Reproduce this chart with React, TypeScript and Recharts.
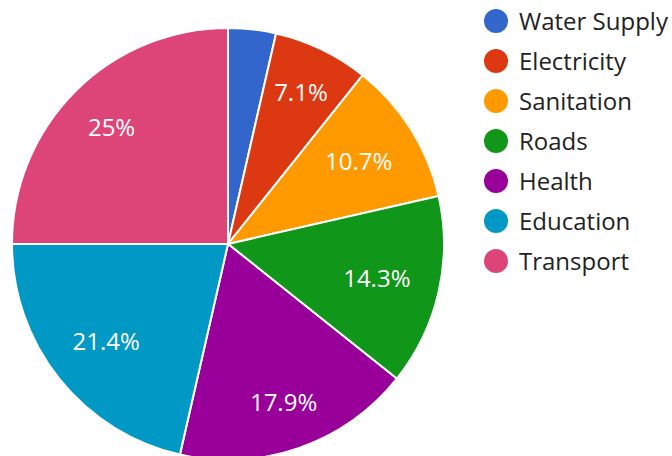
import React from "react";
import { Cell, Legend, Pie, PieChart } from "recharts";

const categories = ["Water Supply", "Electricity", "Sanitation", "Roads", "Health", "Education", "Transport"];
const values = [1, 2, 3, 4, 5, 6, 7];
const colors = ["#3366cc", "#dc3912", "#ff9900", "#109618", "#990099", "#0099c6", "#dd4477"];

const data = categories.map((name, i) => ({ name, value: values[i] }));

const FONT = "'Open Sans', 'Noto Sans', sans-serif";
const FS = 24;
const RAD = Math.PI / 180;

// rough Open Sans advance widths, used to keep the label box inside the slice
function textWidth(s: string) {
  let w = 0;
  for (const ch of s) {
    if (ch === ".") w += 0.266;
    else if (ch === "%") w += 0.834;
    else w += 0.572;
  }
  return w * FS;
}

function fmtPct(p: number) {
  return `${parseFloat((p * 100).toFixed(1))}%`;
}

function renderLabel(props: any) {
  const { cx, cy, midAngle, percent } = props;
  if (percent < 0.05) return null;
  const text = fmtPct(percent);
  const ux = Math.cos(-midAngle * RAD);
  const uy = Math.sin(-midAngle * RAD);
  const hw = textWidth(text) / 2;
  const hh = (FS * 0.714) / 2;
  const r = 187.5 - (Math.abs(ux) * hw + Math.abs(uy) * hh);
  const x = cx + r * ux;
  const y = cy + r * uy;
  return (
    <text
      x={x}
      y={y + hh}
      fill="#ffffff"
      textAnchor="middle"
      fontFamily={FONT}
      fontSize={FS}
    >
      {text}
    </text>
  );
}

function LegendList() {
  return (
    <div style={{ fontFamily: FONT, fontSize: FS, color: "#222222" }}>
      {categories.map((name, i) => (
        <div key={name} style={{ display: "flex", alignItems: "center", height: 40, lineHeight: "40px" }}>
          <svg width={24} height={24} style={{ display: "block" }}>
            <circle cx={12} cy={12} r={12} fill={colors[i]} />
          </svg>
          <span style={{ marginLeft: 11, whiteSpace: "nowrap" }}>{name}</span>
        </div>
      ))}
    </div>
  );
}

export default function App() {
  return (
    <div style={{ position: "absolute", left: 0, top: 0, width: 672, height: 456, background: "#fff" }}>
      <PieChart width={672} height={456} margin={{ top: 0, right: 0, bottom: 0, left: 0 }}>
        <Pie
          data={data}
          dataKey="value"
          nameKey="name"
          cx={228}
          cy={244}
          outerRadius={216}
          startAngle={90}
          endAngle={-270}
          stroke="#ffffff"
          strokeWidth={2}
          label={renderLabel}
          labelLine={false}
          isAnimationActive={false}
        >
          {data.map((d, i) => (
            <Cell key={d.name} fill={colors[i]} />
          ))}
        </Pie>
        <Legend
          layout="vertical"
          align="right"
          verticalAlign="top"
          content={() => <LegendList />}
          wrapperStyle={{ position: "absolute", left: 484, top: 1, width: 188, margin: 0 }}
        />
      </PieChart>
    </div>
  );
}
